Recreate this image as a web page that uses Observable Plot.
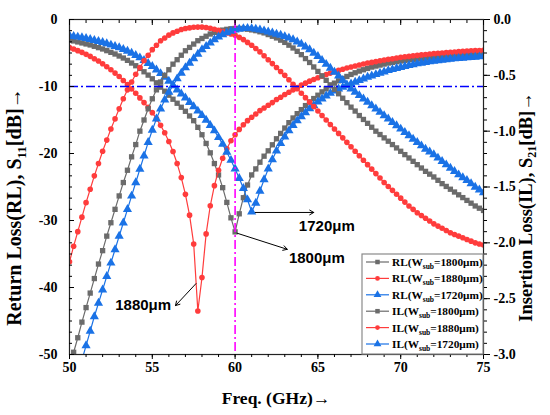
<!DOCTYPE html>
<html><head><meta charset="utf-8">
<script src="https://cdn.jsdelivr.net/npm/d3@7"></script>
<script src="https://cdn.jsdelivr.net/npm/@observablehq/plot@0.6"></script>
<style>
body{margin:0;background:#fff;}
#chart{width:550px;height:415px;}
</style></head><body><div id="chart"></div>
<script>
const freq = [50,50.25,50.5,50.75,51,51.25,51.5,51.75,52,52.25,52.5,52.75,53,53.25,53.5,53.75,54,54.25,54.5,54.75,55,55.25,55.5,55.75,56,56.25,56.5,56.75,57,57.25,57.5,57.75,58,58.25,58.5,58.75,59,59.25,59.5,59.75,60,60.25,60.5,60.75,61,61.25,61.5,61.75,62,62.25,62.5,62.75,63,63.25,63.5,63.75,64,64.25,64.5,64.75,65,65.25,65.5,65.75,66,66.25,66.5,66.75,67,67.25,67.5,67.75,68,68.25,68.5,68.75,69,69.25,69.5,69.75,70,70.25,70.5,70.75,71,71.25,71.5,71.75,72,72.25,72.5,72.75,73,73.25,73.5,73.75,74,74.25,74.5,74.75,75];

// Return loss S11 (dB), left axis
const rl1800 = [-3.1,-3.2,-3.35,-3.5,-3.65,-3.8,-4.0,-4.2,-4.4,-4.65,-4.9,-5.15,-5.45,-5.75,-6.1,-6.5,-6.9,-7.3,-7.8,-8.3,-8.85,-9.45,-10.1,-10.7,-11.3,-11.9,-12.5,-13.1,-13.7,-14.4,-15.1,-16.1,-17.2,-18.5,-19.9,-21.5,-23.2,-25.1,-27.3,-29.6,-31.7,-29.0,-26.6,-24.7,-23.2,-22.3,-21.3,-20.4,-19.6,-18.7,-17.8,-17.0,-16.2,-15.4,-14.7,-14.05,-13.45,-12.85,-12.3,-11.8,-11.3,-10.8,-10.35,-9.9,-9.5,-9.15,-8.8,-8.5,-8.2,-7.95,-7.7,-7.5,-7.3,-7.1,-6.95,-6.8,-6.65,-6.5,-6.4,-6.3,-6.2,-6.1,-6.0,-5.95,-5.9,-5.8,-5.75,-5.7,-5.65,-5.6,-5.55,-5.5,-5.45,-5.42,-5.39,-5.35,-5.32,-5.29,-5.26,-5.23,-5.2];
const rl1880 = [-4.2,-4.4,-4.65,-4.9,-5.2,-5.5,-5.85,-6.2,-6.6,-7.05,-7.5,-8.0,-8.5,-9.1,-9.7,-10.35,-11.0,-11.7,-12.4,-13.1,-13.9,-14.8,-15.8,-16.9,-18.2,-19.7,-21.5,-23.6,-26.1,-29.2,-33.5,-43.5,-38.5,-32.0,-27.8,-24.8,-22.5,-20.7,-19.3,-18.1,-17.2,-16.4,-15.7,-15.1,-14.6,-14.1,-13.6,-13.2,-12.8,-12.4,-11.95,-11.6,-11.2,-10.85,-10.5,-10.15,-9.8,-9.5,-9.2,-8.95,-8.7,-8.45,-8.2,-8.0,-7.8,-7.6,-7.42,-7.25,-7.1,-6.95,-6.8,-6.65,-6.5,-6.4,-6.28,-6.16,-6.05,-5.95,-5.85,-5.75,-5.65,-5.57,-5.5,-5.42,-5.35,-5.28,-5.22,-5.16,-5.1,-5.05,-5.0,-4.95,-4.9,-4.85,-4.8,-4.76,-4.72,-4.68,-4.65,-4.62,-4.6];
const rl1720 = [-2.4,-2.5,-2.6,-2.7,-2.8,-2.95,-3.1,-3.25,-3.4,-3.6,-3.8,-4.0,-4.2,-4.45,-4.7,-5.0,-5.35,-5.7,-6.1,-6.55,-7.0,-7.5,-8.05,-8.6,-9.2,-9.85,-10.5,-11.1,-11.7,-12.35,-13.0,-13.65,-14.3,-15.0,-15.8,-16.6,-17.6,-18.6,-19.8,-21.0,-22.3,-23.7,-25.2,-26.9,-28.7,-27.4,-25.6,-23.9,-22.3,-20.9,-19.6,-18.5,-17.5,-16.6,-15.8,-15.1,-14.5,-13.9,-13.3,-12.8,-12.3,-11.85,-11.4,-11.0,-10.65,-10.35,-10.1,-9.85,-9.6,-9.35,-9.1,-8.85,-8.6,-8.4,-8.2,-8.0,-7.8,-7.6,-7.45,-7.3,-7.15,-7.0,-6.85,-6.75,-6.6,-6.5,-6.4,-6.3,-6.2,-6.12,-6.05,-5.98,-5.9,-5.85,-5.8,-5.75,-5.7,-5.65,-5.6,-5.55,-5.5];

// Insertion loss S21 (dB), right axis
const il1800 = [-3.12,-2.98,-2.85,-2.71,-2.58,-2.45,-2.32,-2.19,-2.07,-1.94,-1.82,-1.7,-1.58,-1.46,-1.35,-1.23,-1.12,-1.0,-0.9,-0.8,-0.71,-0.63,-0.56,-0.5,-0.45,-0.4,-0.36,-0.32,-0.28,-0.25,-0.22,-0.19,-0.17,-0.15,-0.13,-0.115,-0.105,-0.095,-0.088,-0.083,-0.08,-0.08,-0.082,-0.087,-0.093,-0.1,-0.11,-0.12,-0.135,-0.15,-0.165,-0.185,-0.205,-0.23,-0.255,-0.285,-0.315,-0.35,-0.385,-0.425,-0.465,-0.505,-0.545,-0.585,-0.625,-0.665,-0.705,-0.745,-0.785,-0.82,-0.86,-0.895,-0.93,-0.965,-1.0,-1.03,-1.06,-1.09,-1.12,-1.15,-1.18,-1.21,-1.24,-1.27,-1.3,-1.33,-1.36,-1.385,-1.41,-1.44,-1.47,-1.495,-1.52,-1.545,-1.57,-1.595,-1.62,-1.645,-1.67,-1.69,-1.71];
const il1880 = [-2.17,-2.03,-1.9,-1.77,-1.64,-1.52,-1.4,-1.29,-1.18,-1.08,-0.98,-0.89,-0.8,-0.71,-0.63,-0.56,-0.49,-0.43,-0.37,-0.32,-0.27,-0.23,-0.19,-0.165,-0.14,-0.12,-0.105,-0.09,-0.08,-0.075,-0.07,-0.068,-0.068,-0.072,-0.078,-0.087,-0.097,-0.108,-0.12,-0.13,-0.14,-0.16,-0.18,-0.205,-0.23,-0.26,-0.29,-0.325,-0.36,-0.395,-0.43,-0.465,-0.5,-0.54,-0.58,-0.62,-0.66,-0.7,-0.74,-0.78,-0.82,-0.86,-0.9,-0.94,-0.98,-1.02,-1.06,-1.1,-1.14,-1.18,-1.22,-1.26,-1.3,-1.34,-1.38,-1.42,-1.46,-1.495,-1.53,-1.565,-1.6,-1.635,-1.67,-1.7,-1.73,-1.755,-1.78,-1.805,-1.83,-1.85,-1.87,-1.89,-1.91,-1.925,-1.94,-1.955,-1.97,-1.985,-2.0,-2.01,-2.02];
const il1720 = [-3.45,-3.32,-3.18,-3.05,-2.92,-2.79,-2.66,-2.54,-2.42,-2.3,-2.18,-2.06,-1.94,-1.82,-1.7,-1.58,-1.46,-1.34,-1.22,-1.1,-0.99,-0.89,-0.8,-0.72,-0.65,-0.59,-0.53,-0.48,-0.43,-0.39,-0.35,-0.31,-0.27,-0.24,-0.21,-0.18,-0.155,-0.135,-0.118,-0.104,-0.093,-0.085,-0.08,-0.078,-0.08,-0.085,-0.092,-0.1,-0.11,-0.12,-0.13,-0.14,-0.152,-0.165,-0.18,-0.2,-0.22,-0.245,-0.27,-0.3,-0.33,-0.365,-0.4,-0.435,-0.47,-0.505,-0.545,-0.585,-0.62,-0.65,-0.68,-0.71,-0.74,-0.77,-0.8,-0.83,-0.86,-0.89,-0.92,-0.95,-0.98,-1.01,-1.04,-1.07,-1.1,-1.13,-1.16,-1.185,-1.21,-1.24,-1.27,-1.3,-1.33,-1.36,-1.39,-1.415,-1.44,-1.47,-1.5,-1.525,-1.55];

const xTicks = [50,55,60,65,70,75];
const xTickLabels = ["50","55","60","65","70","75"];
const yLeftTicks = [0,-10,-20,-30,-40,-50];
const yLeftTickLabels = ["0","-10","-20","-30","-40","-50"];
const yRightTicks = [0,-0.5,-1,-1.5,-2,-2.5,-3];
const yRightTickLabels = ["0.0","-0.5","-1.0","-1.5","-2.0","-2.5","-3.0"];
const refLevel = -10;   // dB
const refFreq = 60;     // GHz

const seriesNames = ["RL","RL","RL","IL","IL","IL"];
const seriesWidths = ["1800","1880","1720","1800","1880","1720"];
const seriesValues = [rl1800, rl1880, rl1720, il1800, il1880, il1720];
const seriesAxis = ["left","left","left","right","right","right"];
const seriesColors = ["#6b6b6b","#ff3c3c","#1a72e6","#6b6b6b","#ff3c3c","#1a72e6"];
const seriesSymbols = ["square","circle","triangle","square","circle","triangle"];
const symbolR = {square: 3.0, circle: 2.8, triangle: 3.4};

const annotations = [
  {label:"1880\u03bcm", fx:57.72, fy:-39.2, tx:56.4, ty:-42.7, lx:54.45, ly:-42.7, anchor:"middle"},
  {label:"1800\u03bcm", fx:60.0, fy:-31.8, tx:63.15, ty:-34.3, lx:63.25, ly:-35.6, anchor:"start"},
  {label:"1720\u03bcm", fx:61.1, fy:-28.8, tx:64.75, ty:-28.8, lx:63.85, ly:-30.8, anchor:"start"}
];

const K = 50/3; // right-axis (IL) to left-axis (RL) scale
const serif = "'Liberation Serif','Times New Roman',serif";
const sans = "'Liberation Sans',Arial,sans-serif";

const seriesMarks = seriesValues.flatMap((vals, k) => {
  const rows = vals.map((v, i) => ({f: freq[i], y: seriesAxis[k] === "left" ? v : v * K}));
  return [
    Plot.line(rows, {x: "f", y: "y", stroke: seriesColors[k], strokeWidth: 1.2, clip: true}),
    Plot.dot(rows, {x: "f", y: "y", fill: seriesColors[k], stroke: "none", symbol: seriesSymbols[k], r: symbolR[seriesSymbols[k]], clip: true})
  ];
});

const xMinor = d3.range(50, 75.001, 1);
const yLeftMinor = d3.range(0, 31).map(i => -i * 10 / 6);
const yRightMinor = d3.range(0, 31).map(i => -i * 0.1 * K);

const plot = Plot.plot({
  width: 550, height: 415,
  marginLeft: 69, marginRight: 67, marginTop: 19, marginBottom: 61,
  x: {domain: [50, 75]},
  y: {domain: [-50, 0]},
  style: {fontFamily: serif, fontSize: "14px", fontWeight: "bold", color: "#000", background: "#fff"},
  marks: [
    ...seriesMarks,
    Plot.ruleY([refLevel], {stroke: "#0000ff", strokeWidth: 1.3, strokeDasharray: "9,3,2,3"}),
    Plot.ruleX([refFreq], {stroke: "#ff00ff", strokeWidth: 1.6, strokeDasharray: "9,3,2,3"}),
    Plot.frame({stroke: "#222", strokeWidth: 1.2}),
    // bottom
    Plot.axisX(xTicks, {anchor: "bottom", tickSize: 5, tickPadding: 3, tickFormat: d => xTickLabels[xTicks.indexOf(d)], label: null}),
    Plot.axisX(xMinor, {anchor: "bottom", tickSize: 3, fill: "none", label: null}),
    // top (inward)
    Plot.axisX(xTicks, {anchor: "top", tickSize: -5, fill: "none", label: null}),
    Plot.axisX(xMinor, {anchor: "top", tickSize: -3, fill: "none", label: null}),
    // left (inward ticks)
    Plot.axisY(yLeftTicks, {anchor: "left", tickSize: -5, fill: "none", label: null}),
    Plot.axisY(yLeftMinor, {anchor: "left", tickSize: -3, fill: "none", label: null}),
    Plot.axisY(yLeftTicks, {anchor: "left", tickSize: 0, tickPadding: 12, tickFormat: d => yLeftTickLabels[yLeftTicks.indexOf(d)], label: null}),
    // right (IL)
    Plot.axisY(yRightTicks.map(v => v * K), {anchor: "right", tickSize: 6, tickPadding: 4, tickFormat: (d) => yRightTickLabels[Math.round(-d / K * 2)], label: null}),
    Plot.axisY(yRightMinor, {anchor: "right", tickSize: 3, fill: "none", label: null}),
    // annotations
    Plot.arrow(annotations, {x1: "fx", y1: "fy", x2: "tx", y2: "ty", stroke: "#000", strokeWidth: 1, headLength: 7, insetStart: 2}),
    Plot.text(annotations.filter(a => a.anchor === "middle"), {x: "lx", y: "ly", text: "label", fontFamily: sans, fontSize: 15, fontWeight: "bold", textAnchor: "middle", fill: "#000"}),
    Plot.text(annotations.filter(a => a.anchor === "start"), {x: "lx", y: "ly", text: "label", fontFamily: sans, fontSize: 15, fontWeight: "bold", textAnchor: "start", fill: "#000"})
  ]
});

document.getElementById("chart").appendChild(plot);
const svg = d3.select(plot);

// axis titles
const lt = svg.append("text").attr("transform", "translate(21,207) rotate(-90)")
  .attr("text-anchor", "middle").attr("font-family", serif).attr("font-weight", "bold").attr("font-size", 20).attr("fill", "#000");
lt.append("tspan").text("Return Loss(RL), S");
lt.append("tspan").attr("dy", 5).attr("font-size", 13).text("11");
lt.append("tspan").attr("dy", -5).text("[dB]\u2192");

const rt = svg.append("text").attr("transform", "translate(532,207) rotate(-90)")
  .attr("text-anchor", "middle").attr("font-family", serif).attr("font-weight", "bold").attr("font-size", 18.5).attr("fill", "#000");
rt.append("tspan").text("Insertion Loss(IL), S");
rt.append("tspan").attr("dy", 4).attr("font-size", 12).text("21");
rt.append("tspan").attr("dy", -4).text("[dB]\u2192");

svg.append("text").attr("x", 276).attr("y", 404).attr("text-anchor", "middle")
  .attr("font-family", serif).attr("font-weight", "bold").attr("font-size", 17.5).attr("fill", "#000")
  .text("Freq. (GHz)\u2192");

// legend
const lg = svg.append("g");
lg.append("rect").attr("x", 362).attr("y", 254).attr("width", 121).attr("height", 100)
  .attr("fill", "#fff").attr("stroke", "#8a8a8a").attr("stroke-width", 1.2);
const symType = {square: d3.symbolSquare, circle: d3.symbolCircle, triangle: d3.symbolTriangle};
seriesNames.forEach((nm, k) => {
  const yy = 262 + k * 16.4;
  lg.append("line").attr("x1", 366).attr("x2", 389).attr("y1", yy).attr("y2", yy)
    .attr("stroke", seriesColors[k]).attr("stroke-width", 1.2);
  const r = symbolR[seriesSymbols[k]] * 0.85;
  lg.append("path").attr("transform", `translate(377.5,${yy})`)
    .attr("d", d3.symbol().type(symType[seriesSymbols[k]]).size(Math.PI * r * r)())
    .attr("fill", seriesColors[k]);
  const t = lg.append("text").attr("x", 392).attr("y", yy + 4).attr("text-anchor", "start").attr("font-family", serif)
    .attr("font-weight", "bold").attr("font-size", 11.3).attr("fill", "#000");
  t.append("tspan").text(nm + "(W");
  t.append("tspan").attr("dy", 3).attr("font-size", 7.5).text("sub");
  t.append("tspan").attr("dy", -3).text("=" + seriesWidths[k] + "\u03bcm)");
});
</script>
</body></html>
